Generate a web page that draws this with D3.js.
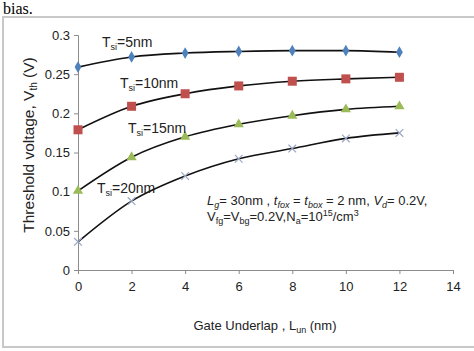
<!DOCTYPE html>
<html>
<head>
<meta charset="utf-8">
<script src="https://cdn.jsdelivr.net/npm/d3@7"></script>
<style>
  body { margin: 0; background: #fff; }
  svg text { font-family: "Liberation Sans", Arial, sans-serif; }
</style>
</head>
<body>
<div id="chart"></div>
<script>
// Dữ liệu
const underlap = [0, 2, 4, 6, 8, 10, 12];
const tsi5 = [0.259, 0.272, 0.277, 0.279, 0.280, 0.280, 0.278];
const tsi10 = [0.179, 0.209, 0.225, 0.235, 0.241, 0.244, 0.246];
const tsi15 = [0.101, 0.144, 0.170, 0.186, 0.197, 0.205, 0.209];
const tsi20 = [0.036, 0.088, 0.120, 0.142, 0.155, 0.168, 0.175];
const xTicks = [0, 2, 4, 6, 8, 10, 12, 14];
const yTicks = [0, 0.05, 0.1, 0.15, 0.2, 0.25, 0.3];

const series = [
  { name: "5", values: tsi5, color: "#4F81BD", shape: "diamond" },
  { name: "10", values: tsi10, color: "#C0504D", shape: "square" },
  { name: "15", values: tsi15, color: "#9BBB59", shape: "triangle" },
  { name: "20", values: tsi20, color: "#9AA6C4", shape: "cross" }
];

const W = 474, H = 351;
const svg = d3.select("#chart").append("svg")
  .attr("width", W).attr("height", H);

// khung
svg.append("rect").attr("x", 3).attr("y", 17).attr("width", 480).attr("height", 330)
  .attr("fill", "none").attr("stroke", "#c8c8c8").attr("stroke-width", 2);

// chữ "bias."
svg.append("text").attr("x", 3).attr("y", 14)
  .style("font-family", "'Liberation Serif', serif").style("font-size", "16px")
  .text("bias.");

const x = d3.scaleLinear().domain([0, 14]).range([78, 453]);
const y = d3.scaleLinear().domain([0, 0.3]).range([270, 35]);

// Trục x
const gx = svg.append("g").attr("transform", "translate(0,270)")
  .call(d3.axisBottom(x).tickValues(xTicks).tickSize(4).tickPadding(8).tickFormat(d3.format("d")));
// Trục y
const gy = svg.append("g").attr("transform", "translate(78,0)")
  .call(d3.axisLeft(y).tickValues(yTicks).tickSize(4).tickPadding(4)
    .tickFormat(d => d === 0 ? "0" : String(+d.toFixed(2))));
[gx, gy].forEach(g => {
  g.select(".domain").attr("stroke", "#8c8c8c");
  g.selectAll(".tick line").attr("stroke", "#8c8c8c");
  g.selectAll(".tick text").attr("fill", "#222").style("font-size", "13px");
});

// đường
const line = d3.line()
  .x((d, i) => x(underlap[i]))
  .y(d => y(d))
  .curve(d3.curveMonotoneX);

series.forEach(s => {
  svg.append("path").datum(s.values)
    .attr("fill", "none").attr("stroke", "#111").attr("stroke-width", 1.6)
    .attr("d", line);

  const g = svg.append("g");
  s.values.forEach((v, i) => {
    const cx = x(underlap[i]), cy = y(v);
    if (s.shape === "diamond") {
      g.append("path").attr("d", d3.symbol(d3.symbolDiamond, 40)())
        .attr("transform", `translate(${cx},${cy})`).attr("fill", s.color);
    } else if (s.shape === "square") {
      g.append("rect").attr("x", cx - 4.5).attr("y", cy - 4.5)
        .attr("width", 9).attr("height", 9).attr("fill", s.color);
    } else if (s.shape === "triangle") {
      g.append("path").attr("d", d3.symbol(d3.symbolTriangle, 45)())
        .attr("transform", `translate(${cx},${cy})`).attr("fill", s.color);
    } else {
      g.append("path").attr("d", d3.symbol(d3.symbolX, 40)())
        .attr("transform", `translate(${cx},${cy})`)
        .attr("fill", "none").attr("stroke", s.color).attr("stroke-width", 1.2);
    }
  });
});

// nhãn T_si
const labels = [
  { t: "5", px: 102, py: 47 },
  { t: "10", px: 120, py: 88 },
  { t: "15", px: 128, py: 133 },
  { t: "20", px: 97, py: 193 }
];
labels.forEach(l => {
  const t = svg.append("text").attr("x", l.px).attr("y", l.py)
    .attr("fill", "#222").style("font-size", "14px");
  t.append("tspan").text("T");
  t.append("tspan").attr("dy", 3).style("font-size", "9px").text("si");
  t.append("tspan").attr("dy", -3).text(`=${l.t}nm`);
});

// điều kiện
const c1 = svg.append("text").attr("x", 207).attr("y", 205)
  .attr("fill", "#222").style("font-size", "13px");
c1.append("tspan").style("font-style", "italic").text("L");
c1.append("tspan").attr("dy", 3).style("font-size", "9px").style("font-style", "italic").text("g");
c1.append("tspan").attr("dy", -3).text("= 30nm , ");
c1.append("tspan").style("font-style", "italic").text("t");
c1.append("tspan").attr("dy", 3).style("font-size", "9px").style("font-style", "italic").text("fox");
c1.append("tspan").attr("dy", -3).text(" = ");
c1.append("tspan").style("font-style", "italic").text("t");
c1.append("tspan").attr("dy", 3).style("font-size", "9px").style("font-style", "italic").text("box");
c1.append("tspan").attr("dy", -3).text(" = 2 nm, ");
c1.append("tspan").style("font-style", "italic").text("V");
c1.append("tspan").attr("dy", 3).style("font-size", "9px").style("font-style", "italic").text("d");
c1.append("tspan").attr("dy", -3).text("= 0.2V,");

const c2 = svg.append("text").attr("x", 207).attr("y", 221)
  .attr("fill", "#222").style("font-size", "13px");
c2.append("tspan").text("V");
c2.append("tspan").attr("dy", 3).style("font-size", "9px").text("fg");
c2.append("tspan").attr("dy", -3).text("=V");
c2.append("tspan").attr("dy", 3).style("font-size", "9px").text("bg");
c2.append("tspan").attr("dy", -3).text("=0.2V,N");
c2.append("tspan").attr("dy", 3).style("font-size", "9px").text("a");
c2.append("tspan").attr("dy", -3).text("=10");
c2.append("tspan").attr("dy", -5).style("font-size", "9px").text("15");
c2.append("tspan").attr("dy", 5).text("/cm");
c2.append("tspan").attr("dy", -5).style("font-size", "9px").text("3");

// nhãn trục x
const xl = svg.append("text").attr("x", 265).attr("y", 330)
  .attr("text-anchor", "middle").attr("fill", "#222").style("font-size", "13px");
xl.append("tspan").text("Gate Underlap , L");
xl.append("tspan").attr("dy", 3).style("font-size", "9px").text("un");
xl.append("tspan").attr("dy", -3).text(" (nm)");

// nhãn trục y
const yl = svg.append("text")
  .attr("transform", "translate(34,145) rotate(-90)")
  .attr("text-anchor", "middle").attr("fill", "#222").style("font-size", "15.5px");
yl.append("tspan").text("Threshold voltage, V");
yl.append("tspan").attr("dy", 3).style("font-size", "10px").text("th");
yl.append("tspan").attr("dy", -3).text(" (V)");
</script>
</body>
</html>
